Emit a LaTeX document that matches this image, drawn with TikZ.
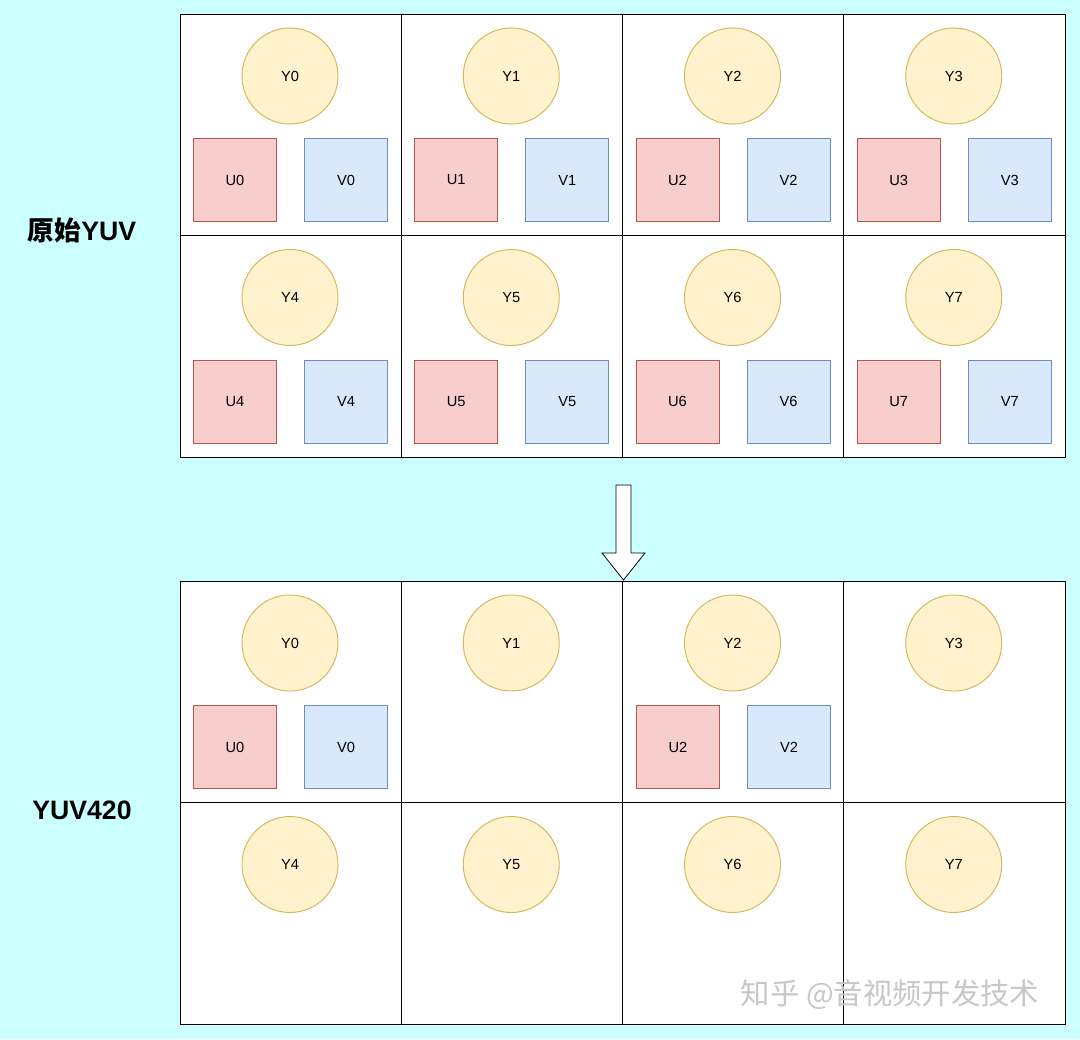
\documentclass[tikz,border=0pt]{standalone}
\usepackage{fontspec}
\setmainfont{Liberation Sans}
\newfontfamily\cjk{Noto Sans CJK SC}
\definecolor{bgc}{HTML}{CCFFFF}
\definecolor{yf}{HTML}{FFF2CC}\definecolor{yd}{HTML}{D6B656}
\definecolor{uf}{HTML}{F8CECC}\definecolor{ud}{HTML}{B85450}
\definecolor{vf}{HTML}{DAE8FC}\definecolor{vd}{HTML}{6C8EBF}
\begin{document}
\begin{tikzpicture}[x=0.75pt,y=-0.75pt,
  cellbox/.style={draw=black,fill=white,line width=0.6pt},
  ycirc/.style={circle,draw=yd,fill=yf,line width=0.7pt,minimum size=96*0.75pt,inner sep=0pt,font=\fontsize{11}{13}\selectfont},
  usq/.style={draw=ud,fill=uf,line width=0.7pt,minimum size=83*0.75pt,inner sep=0pt,font=\fontsize{11}{13}\selectfont},
  vsq/.style={draw=vd,fill=vf,line width=0.7pt,minimum size=83*0.75pt,inner sep=0pt,font=\fontsize{11}{13}\selectfont},
  biglabel/.style={font=\fontsize{20}{24}\selectfont\bfseries}]
\fill[bgc] (0,0) rectangle (1080,1039);
\useasboundingbox (0,0) rectangle (1080,1039);
% top grid
\foreach \r in {0,1}{
 \foreach \c in {0,...,3}{
  \pgfmathsetmacro{\xl}{180+\c*221.25}
  \pgfmathsetmacro{\yt}{14+\r*221.5}
  \pgfmathtruncatemacro{\k}{\r*4+\c}
  \draw[cellbox] (\xl,\yt) rectangle ++(221.25,221.5);
  \node[ycirc] (ty\k) at (\xl+110,\yt+62) {Y\k};
  \node[usq] (tu\k) at (\xl+55,\yt+166) {U\k};
  \node[vsq] (tv\k) at (\xl+166,\yt+166) {V\k};
 }}
% bottom grid
\foreach \r in {0,1}{
 \foreach \c in {0,...,3}{
  \pgfmathsetmacro{\xl}{180+\c*221.25}
  \pgfmathsetmacro{\yt}{581+\r*221.5}
  \pgfmathtruncatemacro{\k}{\r*4+\c}
  \draw[cellbox] (\xl,\yt) rectangle ++(221.25,221.5);
  \node[ycirc] (by\k) at (\xl+110,\yt+62) {Y\k};
 }}
\node[usq] (bu0) at (235,747) {U0};
\node[vsq] (bv0) at (346,747) {V0};
\node[usq] (bu2) at (678,747) {U2};
\node[vsq] (bv2) at (789,747) {V2};
% arrow
\draw[black,fill=white,line width=0.6pt] (616,485) -- (631,485) -- (631,553) -- (645,553) -- (623.5,580) -- (602,553) -- (616,553) -- cycle;
\node[biglabel] (l1) at (82,230) {{\cjk\bfseries 原始}YUV};
\node[biglabel] (l2) at (82,810) {YUV420};
\node[text=white!78!black,font=\cjk\fontsize{22}{24}\selectfont] (wm) at (890,995) {知乎 @音视频开发技术};
\end{tikzpicture}
\end{document}
